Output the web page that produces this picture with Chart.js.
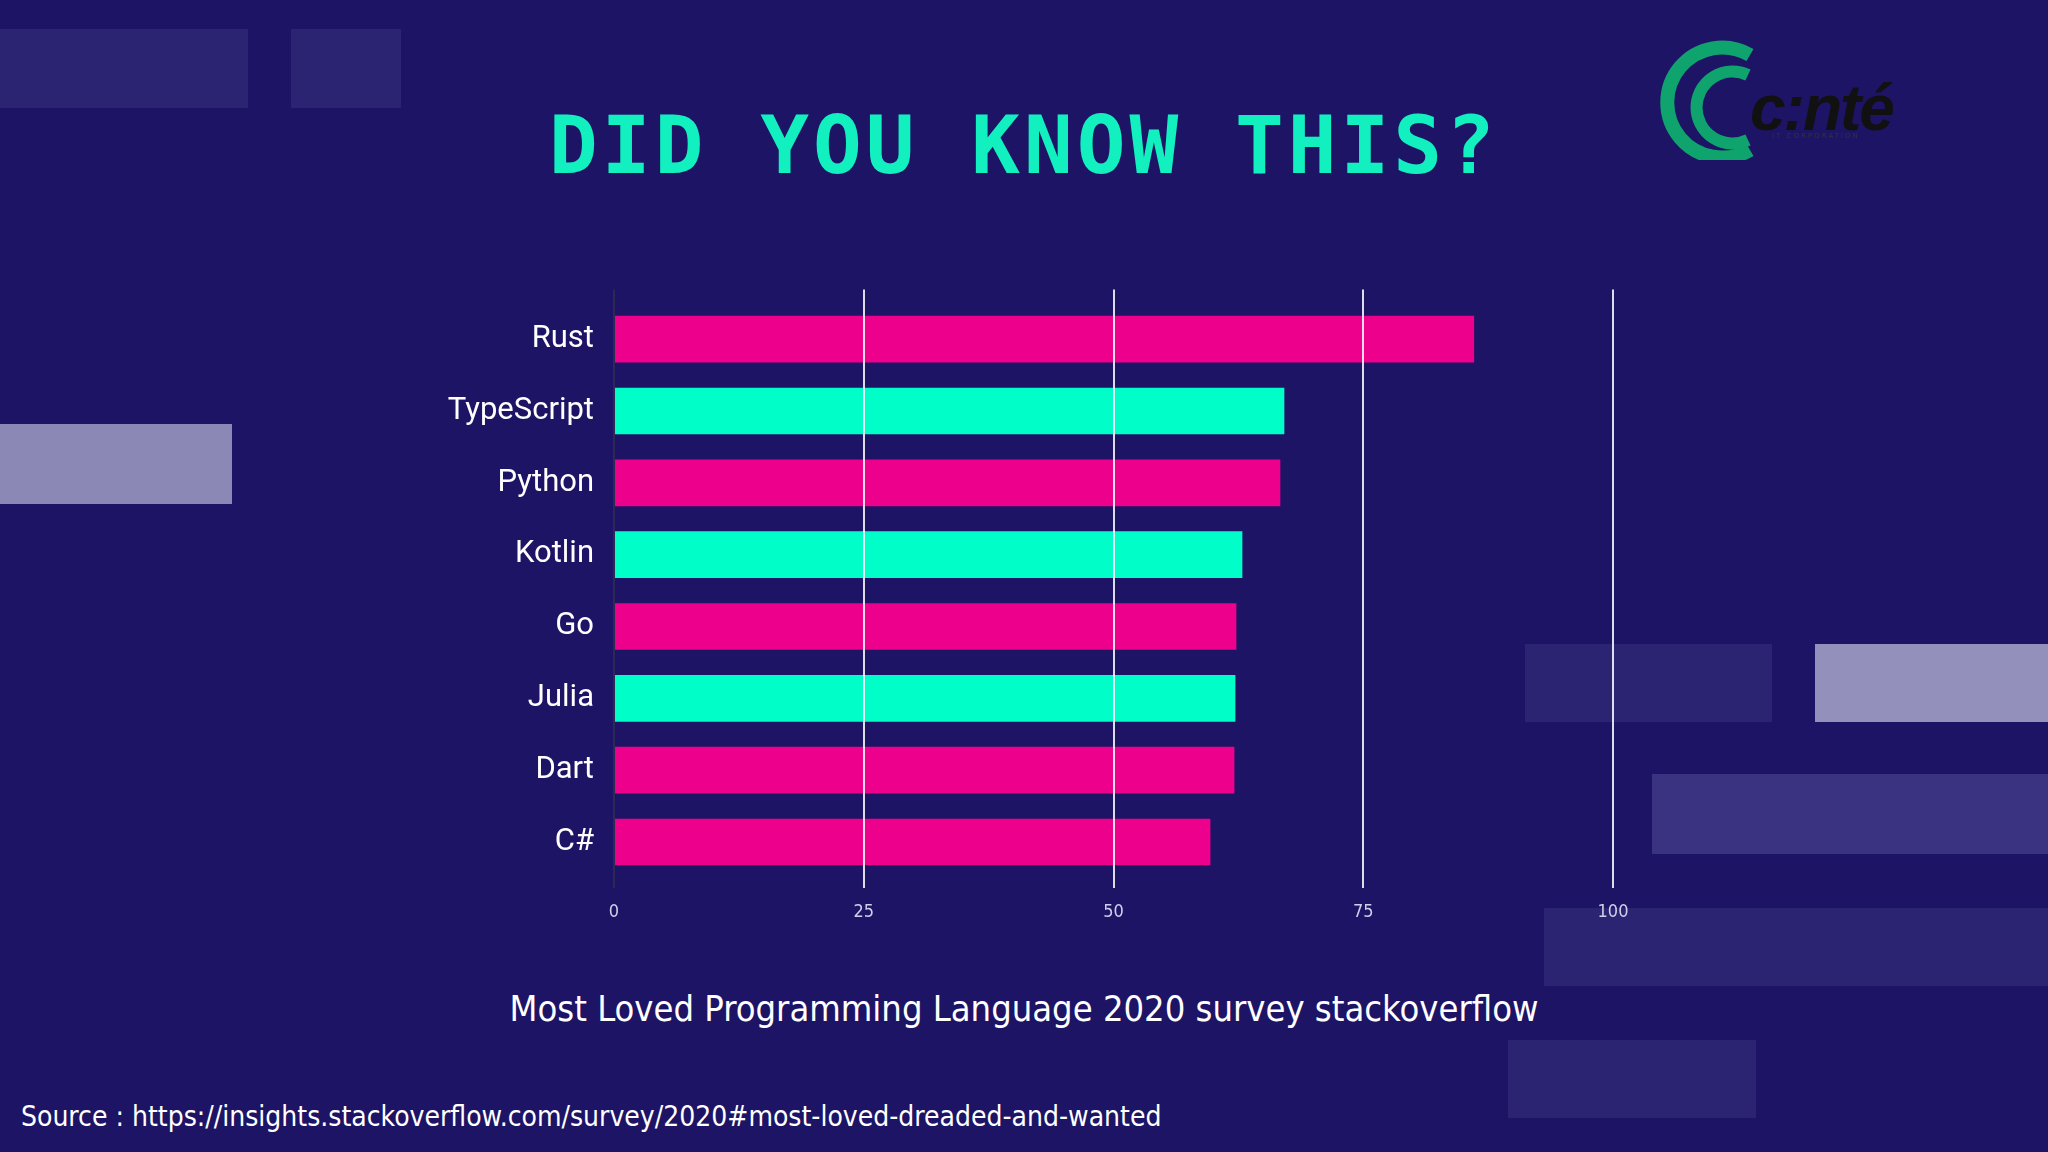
<!DOCTYPE html>
<html>
<head>
<meta charset="utf-8">
<script src="https://cdn.jsdelivr.net/npm/chart.js@4"></script>
<style>
  html, body { margin: 0; padding: 0; }
  body { width: 2048px; height: 1152px; background: #1d1466; position: relative; overflow: hidden; font-family: "DejaVu Sans", sans-serif; }
  .blk { position: absolute; }
  #title { position: absolute; left: 0; width: 2048px; top: 98px; text-align: center; color: #12f0c0; font: bold 81px "DejaVu Sans Mono", monospace; letter-spacing: 4px; }
  #sub { position: absolute; left: 0; width: 2048px; top: 988px; text-align: center; color: #fff; font: 36px "Liberation Sans Narrow", "DejaVu Sans Condensed", sans-serif; }
  #src { position: absolute; left: 21px; top: 1100px; color: #fff; font: 28px "Liberation Sans Narrow", "DejaVu Sans Condensed", sans-serif; }
  #wrap { position: absolute; left: 300px; top: 259px; width: 1353px; height: 681px; }
  #logo { position: absolute; left: 1660px; top: 30px; }
</style>
</head>
<body>
<div class="blk" style="left:0;top:29px;width:248px;height:79px;background:#2b2472"></div>
<div class="blk" style="left:291px;top:29px;width:110px;height:79px;background:#2b2472"></div>
<div class="blk" style="left:0;top:424px;width:232px;height:80px;background:#8c88b6"></div>
<div class="blk" style="left:1525px;top:644px;width:247px;height:78px;background:#2b2472"></div>
<div class="blk" style="left:1815px;top:644px;width:233px;height:78px;background:#9390bb"></div>
<div class="blk" style="left:1652px;top:774px;width:396px;height:80px;background:#3a3382"></div>
<div class="blk" style="left:1544px;top:908px;width:504px;height:78px;background:#2b2472"></div>
<div class="blk" style="left:1508px;top:1040px;width:248px;height:78px;background:#2b2472"></div>

<div id="title">DID YOU KNOW THIS?</div>

<svg id="logo" width="260" height="130" viewBox="0 0 260 130">
  <path d="M 90 25 A 55 55 0 1 0 90 120" fill="none" stroke="#0fa36e" stroke-width="14"/>
  <path d="M 88 45 A 36 36 0 1 0 88 110" fill="none" stroke="#0fa36e" stroke-width="12"/>
  <text x="90" y="100" font-family="Liberation Sans, sans-serif" font-weight="bold" font-style="italic" font-size="64" fill="#111" letter-spacing="-2">c:nté</text>
  <text x="112" y="108" font-family="DejaVu Sans" font-size="7" fill="#333" letter-spacing="2">IT CORPORATION</text>
</svg>

<div id="wrap"><canvas id="chart"></canvas></div>

<div id="sub">Most Loved Programming Language 2020 survey stackoverflow</div>
<div id="src">Source : https://insights.stackoverflow.com/survey/2020#most-loved-dreaded-and-wanted</div>

<script>
const languages = ["Rust", "TypeScript", "Python", "Kotlin", "Go", "Julia", "Dart", "C#"];
const lovedPct = [86.1, 67.1, 66.7, 62.9, 62.3, 62.2, 62.1, 59.7];
const barColors = ["#ec008c", "#00ffc8", "#ec008c", "#00ffc8", "#ec008c", "#00ffc8", "#ec008c", "#ec008c"];
const xTicks = [0, 25, 50, 75, 100];

new Chart(document.getElementById("chart"), {
    type: "bar",
    data: {
        datasets: [
            {
                data: lovedPct.map((v, i) => ({ x: v, y: i })),
                backgroundColor: barColors,
                barPercentage: 0.65,
                categoryPercentage: 1,
            },
        ],
    },
    options: {
        indexAxis: "y",
        responsive: true,
        maintainAspectRatio: false,
        animation: false,
        layout: { padding: { top: 10, right: 40 } },
        plugins: { legend: { display: false }, tooltip: { enabled: false } },
        scales: {
            x: {
                type: "linear",
                min: 0,
                max: 100,
                afterBuildTicks: (axis) => { axis.ticks = xTicks.map((v) => ({ value: v })); },
                afterFit: (axis) => { axis.height = 52; },
                border: { display: false },
                grid: {
                    z: 1,
                    lineWidth: 2,
                    tickLength: 0,
                    color: (c) => (c.index === 0 ? "#2c2a55" : "rgba(255,255,255,0.85)"),
                },
                ticks: { color: "#d0d0e8", font: { size: 18, family: "DejaVu Sans Condensed" }, padding: 14 },
            },
            y: {
                type: "linear",
                reverse: true,
                offset: false,
                min: -0.69,
                max: 7.64,
                afterBuildTicks: (axis) => { axis.ticks = languages.map((l, i) => ({ value: i })); },
                afterFit: (axis) => { axis.width = 314; },
                border: { display: false },
                grid: { display: false },
                ticks: {
                    color: "#ffffff",
                    font: { size: 31, family: "Roboto" },
                    padding: 12,
                    callback: (v) => languages[v],
                },
            },
        },
    },
});
</script>
</body>
</html>
